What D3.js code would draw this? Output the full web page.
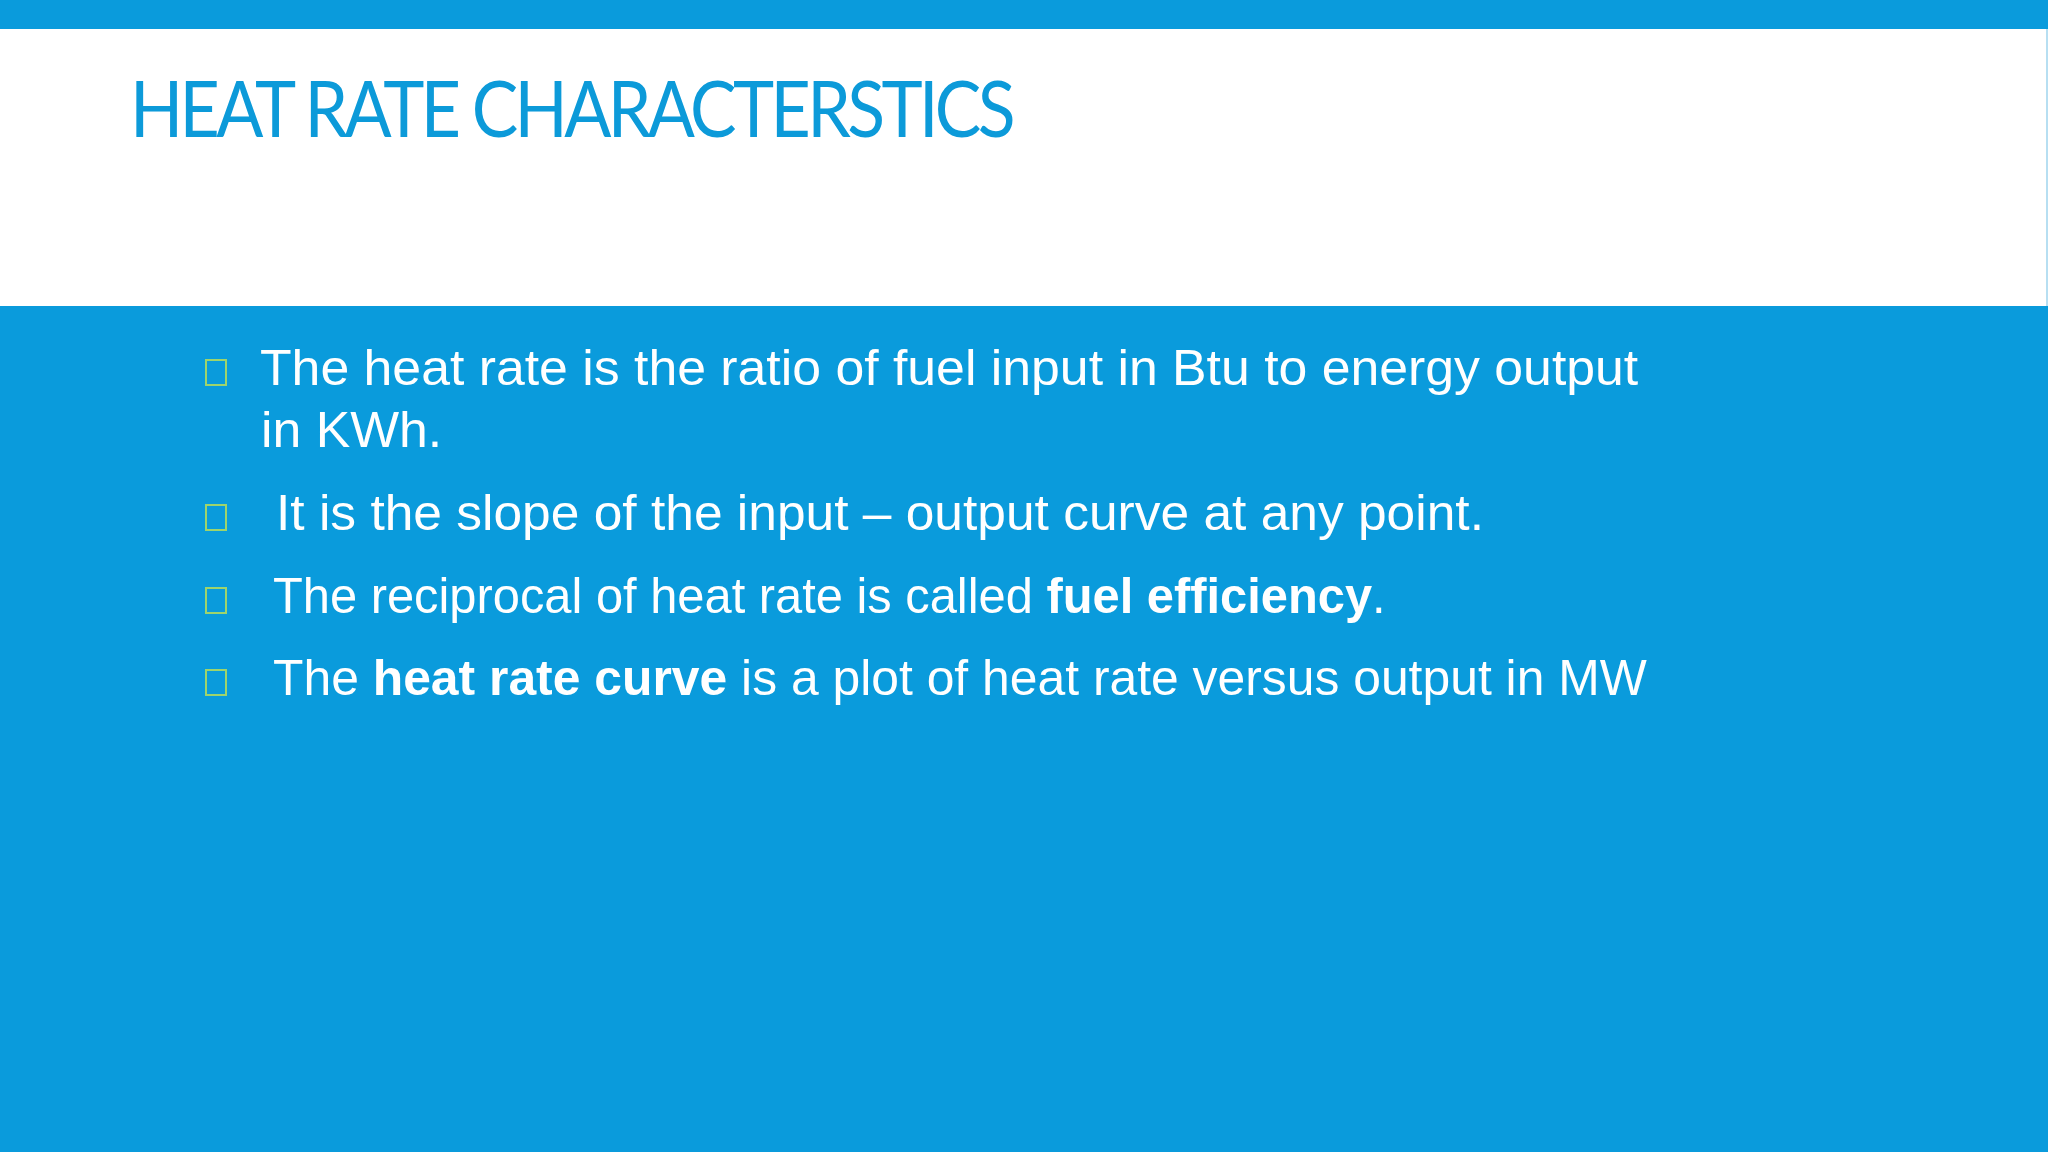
<!DOCTYPE html>
<html>
<head>
<meta charset="utf-8">
<script src="https://cdn.jsdelivr.net/npm/d3@7"></script>
<style>
  html, body { margin: 0; padding: 0; background: #0a9bdc; }
  svg { display: block; }
</style>
</head>
<body>
<svg id="slide"></svg>
<script>
const width = 2048, height = 1152;

// slide text
const titleText = "HEAT RATE CHARACTERSTICS";

// each line is a list of [text, bold] pieces
const bulletLines = [
  [["The heat rate is the ratio of fuel input in Btu to energy output", false]],
  [["in KWh.", false]],
  [["It is the slope of the input \u2013 output curve at any point.", false]],
  [["The reciprocal of heat rate is called ", false], ["fuel efficiency", true], [".", false]],
  [["The ", false], ["heat rate curve", true], [" is a plot of heat rate versus output in MW", false]]
];
const hasBullet = [true, false, true, true, true];

// where each line starts / ends / sits (baseline) on the slide
const lineX = [260, 261, 276, 273, 273];
const lineEnd = [1639, null, 1484, 1386, 1648];
const lineBase = [385, 447, 530, 613, 695];

const blue = "#0a9bdc";

const svg = d3.select("#slide")
  .attr("width", width)
  .attr("height", height);

// background bands
svg.append("rect").attr("x", 0).attr("y", 0).attr("width", width).attr("height", height).attr("fill", blue);
svg.append("rect").attr("x", 0).attr("y", 29).attr("width", width).attr("height", 277).attr("fill", "#ffffff");
svg.append("line")
  .attr("x1", width - 1).attr("x2", width - 1).attr("y1", 29).attr("y2", 306)
  .attr("stroke", "#9fd4ee").attr("stroke-width", 1.5);

// title - squeezed caps, tight spacing like the original
svg.append("text")
  .attr("x", 130)
  .attr("y", 137)
  .attr("font-family", "Lato, 'Open Sans', sans-serif")
  .attr("font-weight", 400)
  .attr("font-size", 77)
  .attr("letter-spacing", -4)
  .attr("fill", "#0c9ad9")
  .attr("textLength", 882)
  .attr("lengthAdjust", "spacingAndGlyphs")
  .text(titleText);

// bullet boxes
svg.selectAll(".bullet")
  .data(lineBase.filter((d, i) => hasBullet[i]))
  .enter()
  .append("rect")
  .attr("class", "bullet")
  .attr("x", 206)
  .attr("y", d => d - 25)
  .attr("width", 20)
  .attr("height", 25)
  .attr("fill", "none")
  .attr("stroke", "#9ed46c")
  .attr("stroke-width", 2);

// body lines
let lastScale = 1;
bulletLines.forEach((pieces, i) => {
  const g = svg.append("g")
    .attr("transform", `translate(${lineX[i]},${lineBase[i]})`);
  const t = g.append("text")
    .attr("x", 0)
    .attr("y", 0)
    .attr("font-family", "'Liberation Sans', Arial, sans-serif")
    .attr("font-size", 50)
    .attr("fill", "#ffffff");
  t.selectAll("tspan")
    .data(pieces)
    .enter()
    .append("tspan")
    .attr("font-weight", d => d[1] ? "bold" : "normal")
    .style("white-space", "pre")
    .text(d => d[0]);

  // squeeze the line to the width it has on the slide
  let s = lastScale;
  if (lineEnd[i] != null) {
    const w = t.node().getBBox().width;
    s = (lineEnd[i] - lineX[i]) / w;
    lastScale = s;
  }
  t.attr("transform", `scale(${s},1)`);
});
</script>
</body>
</html>
